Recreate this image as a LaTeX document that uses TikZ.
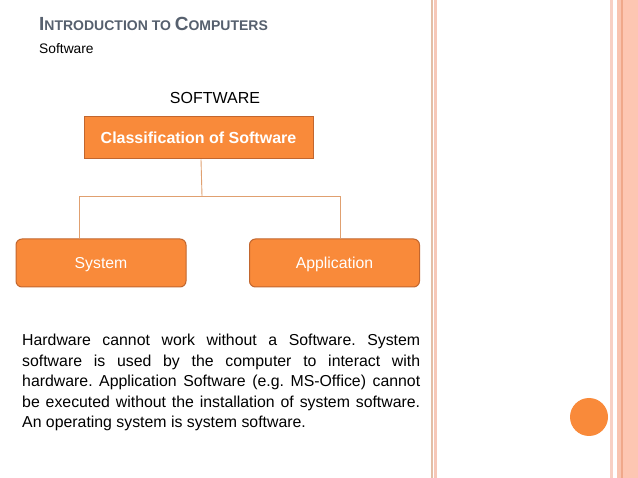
\documentclass[tikz,border=0pt]{standalone}
\usepackage{fontspec}
\setmainfont{Liberation Sans}
\definecolor{boxfill}{HTML}{F98A3A}
\definecolor{boxline}{HTML}{C2662E}
\definecolor{conn}{HTML}{E0A070}
\definecolor{titlecol}{HTML}{56606E}
\begin{document}
\begin{tikzpicture}[x=1pt,y=-1pt,
  topbox/.style={rectangle,draw=boxline,line width=1pt,fill=boxfill,text=white,font=\fontsize{16}{19}\selectfont\bfseries,minimum width=229pt,minimum height=42pt,inner sep=0pt},
  leafbox/.style={rectangle,rounded corners=6pt,draw=boxline,line width=1pt,fill=boxfill,text=white,font=\fontsize{15.8}{19}\selectfont,minimum width=170pt,minimum height=48pt,inner sep=0pt,text depth=1pt},
  connector/.style={draw=conn,line width=0.9pt}]
\useasboundingbox (0,0) rectangle (638,478);
\fill[white] (0,0) rectangle (638,478);
% stripes
\fill[color={rgb,255:red,226;green,190;blue,166}] (431,0) rectangle (432.5,478);
\fill[color={rgb,255:red,246;green,200;blue,184}] (434,0) rectangle (436.5,478);
\fill[color={rgb,255:red,248;green,208;blue,196}] (610,0) rectangle (612.5,478);
\fill[color={rgb,255:red,249;green,196;blue,176}] (617,0) rectangle (621,478);
\fill[color={rgb,255:red,240;green,168;blue,138}] (621,0) rectangle (623,478);
\fill[color={rgb,255:red,253;green,198;blue,178}] (623,0) rectangle (638,478);
% title
\node[anchor=base west,inner sep=0pt,text=titlecol,font=\bfseries] (title) at (39,30.5)
  {{\fontsize{19}{22}\selectfont I}{\fontsize{14}{16}\selectfont NTRODUCTION TO }{\fontsize{19}{22}\selectfont C}{\fontsize{14}{16}\selectfont OMPUTERS}};
\node[anchor=base west,inner sep=0pt,font=\fontsize{13.8}{16}\selectfont] (sub) at (39,54) {Software};
\node[anchor=base,inner sep=0pt,font=\fontsize{16}{19}\selectfont] (head) at (215,104) {SOFTWARE};
% boxes
\node[topbox] (cls) at (198.5,138) {Classification of Software};
\node[leafbox] (sys) at (101,263) {System};
\node[leafbox] (app) at (334.5,263) {Application};
\coordinate (mid) at (202,196);
\draw[connector] (cls.south -| 201,0) -- (mid);
\draw[connector] (sys.north -| 79,0) -- (79,196) -- (340,196) -- (app.north -| 340,0);
% paragraph
\node[anchor=north west,inner sep=0pt,text width=398pt,align=justify,font=\fontsize{15.85}{20.5}\selectfont\frenchspacing] (para) at (22,334)
  {Hardware cannot work without a Software. System\linebreak
   software is used by the computer to interact with\linebreak
   hardware. Application Software (e.g. MS-Office) cannot\linebreak
   be executed without the installation of system software.\linebreak
   An operating system is system software.};
% circle
\node[circle,fill=boxfill,minimum size=38pt,inner sep=0pt] (dot) at (589,417) {};
\end{tikzpicture}
\end{document}
